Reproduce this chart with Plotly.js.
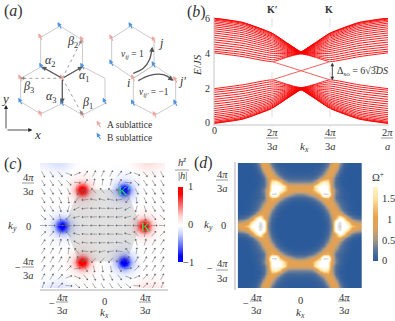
<!DOCTYPE html>
<html>
<head>
<meta charset="utf-8">
<script src="https://cdn.plot.ly/plotly-3.0.1.min.js"></script>
<style>html,body{margin:0;padding:0;background:#fff}#fig{width:395px;height:321px}</style>
</head>
<body>
<div id="fig"></div>
<script>
// panel (a), lattice nodes in sketch units (3 units = 1 px)
const hexagons = [
  [[180,78],[247,120],[248,200],[187,235],[122,200],[122,112],[180,78]],
  [[125,200],[187,235],[187,310],[122,342],[62,305],[62,235],[125,200]],
  [[248,200],[315,235],[315,310],[248,345],[187,310],[187,235],[248,200]],
  [[393,78],[462,120],[462,195],[400,235],[335,190],[335,115],[393,78]],
  [[462,195],[527,240],[527,310],[465,345],[400,310],[400,235],[462,195]]
];
const nodesA = [[122,112],[247,120],[187,235],[62,235],[122,342],[248,345],[335,115],[462,120],[400,235],[527,240],[465,345]];
const nodesB = [[180,78],[125,200],[248,200],[62,305],[187,310],[315,305],[393,78],[335,190],[462,195],[527,310],[400,310]];
const alphaEnds = [[248,200],[125,200],[187,310]];
const betaEnds = [[248,345],[245,120],[62,235]];

// panel (b), energies read per curve at a few kx (units of pi/a)
const kxSamples = [0, 1/3, 2/3, 5/6, 11/12, 1, 13/12, 7/6, 4/3, 5/3, 2];
const upperAt0 = [6,5.98,5.94,5.88,5.8,5.71,5.61,5.5,5.39,5.27,5.15,5.02,4.89,4.76,4.63,4.49,4.36,4.23,4.11,4.02];
const upperAt1 = [5.75,5.73,5.69,5.63,5.55,5.46,5.37,5.27,5.16,5.05,4.93,4.81,4.69,4.56,4.43,4.3,4.17,4.04,3.92,3.8];
const upperAt2 = [5.14,5.13,5.1,5.05,4.99,4.93,4.86,4.78,4.7,4.61,4.52,4.42,4.32,4.21,4.1,3.99,3.87,3.75,3.63,3.52];
const upperAt3 = [4.6,4.59,4.57,4.55,4.52,4.49,4.45,4.41,4.37,4.32,4.27,4.22,4.16,4.1,4.04,3.98,3.92,3.86,3.8,3.76];
const upperAt4 = [4.33,4.32,4.31,4.3,4.28,4.26,4.24,4.22,4.2,4.17,4.15,4.12,4.09,4.06,4.03,4,3.97,3.94,3.91,3.88];
const upperAt5 = [4.08,4.08,4.07,4.07,4.06,4.06,4.05,4.04,4.04,4.03,4.03,4.02,4.01,4,4,3.99,3.98,3.98,3.97,3.96];
const edgeKx = [2/3, 5/6, 1, 7/6, 4/3];
const edgeDown = [3.52, 3.27, 3, 2.73, 2.48];
const edgeUp = [2.48, 2.73, 3, 3.27, 3.52];

// panel (c), hz on the upper right quadrant (x and y in px-like k units, 41.5 = 4pi/3a)
const hzX = [0,7,14,18,21,24,28,33,37,41,45,49,54,62];
const hzY = [0,4,8,12,18,24,29,33,36,39,43,48,55,62];
const hzQuadrant = [
  [0,0,0,.01,.02,.03,.08,.3,.75,1,.75,.3,.08,.02],
  [0,0,0,.01,.01,.02,.07,.25,.55,.75,.55,.25,.07,.02],
  [0,0,-.01,-.01,-.01,0,.04,.12,.25,.3,.25,.12,.04,.01],
  [0,-.01,-.01,-.02,-.02,-.02,0,.06,.09,.1,.09,.06,.03,.01],
  [0,-.01,-.02,-.03,-.04,-.03,-.02,.01,.02,.03,.03,.02,.01,0],
  [0,-.02,-.07,-.09,-.1,-.09,-.07,-.03,-.01,0,0,0,0,0],
  [0,-.04,-.18,-.33,-.4,-.33,-.18,-.07,-.02,0,0,0,0,0],
  [0,-.05,-.33,-.72,-.85,-.72,-.33,-.09,-.03,0,0,0,0,0],
  [0,-.06,-.4,-.85,-1,-.85,-.4,-.1,-.03,0,0,0,0,0],
  [0,-.05,-.33,-.72,-.85,-.72,-.33,-.09,-.03,0,0,0,0,0],
  [0,-.04,-.18,-.33,-.4,-.33,-.18,-.07,-.02,0,0,0,0,0],
  [0,-.02,-.07,-.09,-.1,-.09,-.07,-.03,-.01,.01,.02,.02,.01,0],
  [0,-.01,-.02,-.03,-.03,-.02,-.01,.02,.05,.07,.07,.06,.05,.02],
  [0,0,-.01,0,0,.01,.03,.08,.12,.15,.16,.15,.12,.08]
];
const hexPatch = [[-38,0],[-24,36],[24,36],[38,0],[24,-36],[-24,-36],[-38,0]];
// arrow directions in degrees, columns x>=0 and rows y>=0 (last row only exists below the axis)
const quiverStepX = 8.5;
const quiverStepY = 8.6;
const quiverAngles = [
  [180,180,180,180,180,0,0,0],
  [180,181,184,194,223,283,310,317],
  [177,179,187,209,254,287,300,304],
  [167,170,186,232,277,293,298,300],
  [131,133,148,284,296,299,300,300],
  [83,79,59,353,315,305,301,300],
  [65,63,52,23,337,311,301,298],
  [61,60,54,41,4,316,296,290]
];
const hzBar = [-1,-.85,-.7,-.5,-.25,0,.25,.5,.7,.85,1];

// panel (d), Berry curvature on the upper right quadrant (values above 1.75 are the clipped patches)
const omegaGrid = [0,4,8,12,16,20,24,28,32,36,40,44,48,52,56,60,63];
const omegaQuadrant = [
  [0,0,0,0,0,0,0,.1,.4,2.3,2.6,2.1,2,1.3,1.1,1,.95],
  [0,0,0,0,0,0,.02,.1,.45,2.2,2.5,2,1.5,.9,.7,.6,.55],
  [0,0,0,0,0,0,.04,.15,.55,1.1,2,1.5,.7,.35,.2,.15,.12],
  [0,0,0,0,0,.01,.07,.25,.72,1.05,1,.5,.2,.08,.04,.02,.02],
  [0,0,0,0,.01,.04,.14,.43,.92,.95,.5,.2,.08,.02,.01,0,0],
  [0,0,0,.01,.04,.11,.3,.75,1.02,.7,.3,.13,.05,.02,0,0,0],
  [.02,.02,.04,.07,.14,.3,.7,1,.85,.45,.2,.1,.04,.01,0,0,0],
  [.1,.11,.15,.25,.43,.75,1.1,1.2,.8,.25,.12,.05,.02,0,0,0,0],
  [.4,.42,.55,.72,.92,1.3,2.6,2.5,.85,.3,.12,.05,.02,0,0,0,0],
  [.95,.96,1,1.05,1.5,2,2.1,1.9,.85,.35,.12,.04,.01,0,0,0,0],
  [.85,.85,.87,.95,1.7,2,2,1.95,.65,.2,.08,.02,0,0,0,0,0],
  [.38,.38,.38,.42,.65,1.4,1.8,1.6,.6,.18,.05,.01,0,0,0,0,0],
  [.14,.14,.14,.15,.25,.5,.85,1.1,.7,.2,.05,.01,0,0,0,0,0],
  [.05,.05,.05,.06,.1,.2,.45,.9,1,.4,.1,.02,0,0,0,0,0],
  [.02,.02,.02,.03,.05,.1,.25,.6,1.05,.7,.2,.04,.01,0,0,0,0],
  [.01,.01,.01,.02,.03,.05,.12,.35,.9,1.05,.35,.08,.02,0,0,0,0],
  [0,0,.01,.01,.02,.03,.08,.25,.7,1.05,.5,.12,.03,0,0,0,0]
];
const omegaBar = [0,.25,.5,.75,1,1.25,1.5,1.75];

const serif = "Liberation Serif";
const pink = "#eda79e";
const blue = "#4d94dc";
const hzColors = [[0,"#0000ff"],[.08,"#0000ff"],[.22,"#5f6dff"],[.38,"#c9d3ff"],[.5,"#ffffff"],[.62,"#ffd3d3"],[.78,"#ff6060"],[.92,"#ff0000"],[1,"#ff0000"]];
const omegaMax = 3;
const omegaColors = [[0,"#2a5a9a"],[.083,"#5a7398"],[.167,"#a0988a"],[.25,"#d8a060"],[.35,"#e8a24c"],[.5,"#fde2a0"],[.583,"#fff3c8"],[.66,"#ffffff"],[.77,"#ffffff"],[.84,"#d8d8d8"],[1,"#d0d0d0"]];

const px = x => x / 395;
const py = y => 1 - y / 321;
const traces = [], notes = [], shapes = [];

function note(x, y, text, size, extra) {
  notes.push(Object.assign({xref: "paper", yref: "paper", x: px(x), y: py(y), text: text, showarrow: false,
    xanchor: "center", yanchor: "middle", font: {family: serif, size: size || 11, color: "#333"}}, extra || {}));
}
function rule(x0, y0, x1, y1, color, width, dash) {
  shapes.push({type: "line", xref: "paper", yref: "paper", x0: px(x0), y0: py(y0), x1: px(x1), y1: py(y1),
    line: {color: color || "#333", width: width || .6, dash: dash || "solid"}});
}
function frac(x, yNum, yBar, yDen, top, bottom, halfWidth) {
  note(x, yNum, top, 10.5);
  rule(x - halfWidth, yBar, x + halfWidth, yBar, "#555", .6);
  note(x, yDen, bottom, 10.5);
}
function sketchArrow(tail, tip, color, width, head, size) {
  notes.push({xref: "x", yref: "y", axref: "x", ayref: "y", x: tip[0], y: tip[1], ax: tail[0], ay: tail[1], text: "",
    showarrow: true, arrowhead: head, arrowsize: size, arrowwidth: width, arrowcolor: color});
}

// ---- (a)
hexagons.forEach(h => traces.push({type: "scatter", mode: "lines", xaxis: "x", yaxis: "y", hoverinfo: "skip",
  x: h.map(p => p[0]), y: h.map(p => p[1]), line: {color: "#c4c4c4", width: .9}}));
nodesA.forEach(n => sketchArrow([n[0] + 6, n[1] + 12], [n[0] - 7, n[1] - 12], pink, 1.1, 2, .8));
nodesB.forEach(n => sketchArrow([n[0] + 6, n[1] + 12], [n[0] - 7, n[1] - 12], blue, 1.1, 2, .8));
betaEnds.forEach(e => {
  traces.push({type: "scatter", mode: "lines", xaxis: "x", yaxis: "y", hoverinfo: "skip",
    x: [187, e[0]], y: [235, e[1]], line: {color: "#888", width: .8, dash: "dot"}});
  sketchArrow([e[0] + (187 - e[0]) * .15, e[1] + (235 - e[1]) * .15], e, "#888", .7, 2, 1);
});
alphaEnds.forEach(e => sketchArrow([187, 235], e, "#5a5a5a", 1.2, 2, .8));
sketchArrow([18, 390], [18, 315], "#222", .8, 2, 1);
sketchArrow([18, 390], [97, 390], "#222", .8, 2, 1);
traces.push({type: "scatter", mode: "lines", xaxis: "x", yaxis: "y", hoverinfo: "skip", x: [400,430,448,456], y: [220,205,180,145],
  line: {color: "#555", width: 1.3, shape: "spline"}});
traces.push({type: "scatter", mode: "lines", xaxis: "x", yaxis: "y", hoverinfo: "skip", x: [415,450,490,518], y: [242,226,224,240],
  line: {color: "#555", width: 1.3, shape: "spline"}});
sketchArrow([455, 160], [457, 140], "#555", 1.3, 2, .8);
sketchArrow([505, 231], [520, 242], "#555", 1.3, 2, .8);
sketchArrow([304, 386], [290, 362], pink, 1.1, 2, .8);
sketchArrow([304, 422], [290, 398], blue, 1.1, 2, .8);
note(13, 11, "(<i>a</i>)", 16);
note(72, 42, "<i>β</i><sub>2</sub>", 12);
note(50, 61, "<i>α</i><sub>2</sub>", 12);
note(84, 76, "<i>α</i><sub>1</sub>", 12);
note(28, 87, "<i>β</i><sub>3</sub>", 12);
note(51, 97, "<i>α</i><sub>3</sub>", 12);
note(87, 103, "<i>β</i><sub>1</sub>", 12);
note(5, 98, "<i>y</i>", 13);
note(37, 134, "<i>x</i>", 13);
note(105, 125, "A sublattice", 9.5, {xanchor: "left"});
note(105, 138, "B sublattice", 9.5, {xanchor: "left"});
note(132, 54, "<i>ν<sub>ij</sub></i> = 1", 9.5);
note(161, 43, "<i>j</i>", 12);
note(128, 83, "<i>i</i>", 12);
note(182, 81, "<i>j′</i>", 12);
note(154, 93, "<i>ν<sub>ij′</sub></i> = −1", 9.5);

// ---- (b)
upperAt0.forEach((_, j) => {
  const curve = [upperAt0[j], upperAt1[j], upperAt2[j], upperAt3[j], upperAt4[j], upperAt5[j], upperAt4[j], upperAt3[j], upperAt2[j], upperAt1[j], upperAt0[j]];
  [curve, curve.map(e => 6 - e)].forEach(c => traces.push({type: "scatter", mode: "lines", xaxis: "x2", yaxis: "y2", hoverinfo: "skip",
    x: kxSamples, y: c, line: {color: "#f80000", width: .9, shape: "spline", smoothing: .5}}));
});
[edgeDown, edgeUp].forEach(c => traces.push({type: "scatter", mode: "lines", xaxis: "x2", yaxis: "y2", hoverinfo: "skip",
  x: edgeKx, y: c, line: {color: "#f05050", width: .9}}));
rule(272, 18, 272, 127, "#cfcfcf", .7, "dash");
rule(330, 18, 330, 127, "#cfcfcf", .7, "dash");
rule(214, 17, 214, 125, "#c4c4c4", 1);
rule(213, 125, 389, 125, "#c4c4c4", 1);
notes.push({xref: "x2", yref: "y2", axref: "x2", ayref: "y2", x: 1.36, y: 2.46, ax: 1.36, ay: 3.54, text: "",
  showarrow: true, arrowhead: 2, startarrowhead: 2, arrowside: "end+start", arrowsize: .8, arrowwidth: .9, arrowcolor: "#333"});
note(187, 12, "(<i>b</i>)", 16, {xanchor: "left", x: px(185)});
note(272, 9, "<b>K′</b>", 10);
note(329, 9, "<b>K</b>", 10);
note(346, 71, "Δ<sub>so</sub> = 6√3̅<i>DS</i>", 10, {xanchor: "left", x: px(335)});
note(207, 18, "6", 10); note(207, 53, "4", 10); note(207, 89, "2", 10); note(207, 123, "0", 10);
note(214, 131, "0", 10);
note(197, 65, "<i>E</i>/<i>JS</i>", 11, {textangle: -90});
frac(272, 133, 138, 146, "2<i>π</i>", "3<i>a</i>", 6);
frac(330, 133, 138, 146, "4<i>π</i>", "3<i>a</i>", 6);
frac(387, 133, 138, 146, "2<i>π</i>", "<i>a</i>", 6);
note(304, 147, "<i>k<sub>x</sub></i>", 11);

// ---- (c)
const hzXFull = hzX.slice(1).reverse().map(v => -v).concat(hzX);
const hzYFull = hzY.slice(1).reverse().map(v => -v).concat(hzY);
const hzRowFull = r => r.slice(1).reverse().map(v => -v).concat(r);
const hzRows = hzQuadrant.map(hzRowFull);
const hzZ = hzRows.slice(1).reverse().concat(hzRows);
traces.push({type: "heatmap", xaxis: "x3", yaxis: "y3", x: hzXFull, y: hzYFull, z: hzZ, zmin: -1, zmax: 1, zsmooth: "best",
  colorscale: hzColors, showscale: false, hoverinfo: "skip"});
traces.push({type: "scatter", mode: "lines", xaxis: "x3", yaxis: "y3", hoverinfo: "skip", x: hexPatch.map(p => p[0]), y: hexPatch.map(p => p[1]),
  fill: "toself", fillcolor: "rgba(120,120,120,.22)", line: {width: 0}});
const segX = [], segY = [], tipX = [], tipY = [], tipAngle = [];
for (let j = -7; j <= 6; j++) {
  for (let i = -7; i <= 7; i++) {
    const a = quiverAngles[Math.abs(j)][Math.abs(i)];
    const deg = j < 0 ? 360 - a : a;
    const dx = 3 * Math.cos(deg * Math.PI / 180), dy = 3 * Math.sin(deg * Math.PI / 180);
    const cx = i * quiverStepX, cy = j * quiverStepY;
    segX.push(cx - dx, cx + dx, null);
    segY.push(cy - dy, cy + dy, null);
    tipX.push(cx + dx); tipY.push(cy + dy); tipAngle.push(90 - deg);
  }
}
traces.push({type: "scatter", mode: "lines", xaxis: "x3", yaxis: "y3", hoverinfo: "skip", x: segX, y: segY, line: {color: "#707070", width: .55}});
traces.push({type: "scatter", mode: "markers", xaxis: "x3", yaxis: "y3", hoverinfo: "skip", x: tipX, y: tipY,
  marker: {symbol: "triangle-up", size: 2.2, angle: tipAngle, color: "#606060", line: {width: 0}}});
traces.push({type: "heatmap", xaxis: "x5", yaxis: "y5", x: [0, 1], y: hzBar, z: hzBar.map(v => [v, v]), zmin: -1, zmax: 1, zsmooth: "best",
  colorscale: hzColors, showscale: false, hoverinfo: "skip"});
rule(40, 290, 168, 290, "#999", .8);
note(13, 164, "(<i>c</i>)", 16);
note(124, 191, "K′", 13, {font: {family: serif, size: 13, color: "#22dd66"}});
note(146, 226, "K", 13, {font: {family: serif, size: 13, color: "#22dd66"}});
frac(62, 297, 302, 310, "4<i>π</i>", "3<i>a</i>", 6);
note(52, 303, "−", 10.5);
note(104, 301, "0", 10.5);
frac(145, 297, 302, 310, "4<i>π</i>", "3<i>a</i>", 6);
note(104, 313, "<i>k<sub>x</sub></i>", 11);
frac(28, 178, 183, 192, "4<i>π</i>", "3<i>a</i>", 6);
frac(28, 261, 267, 275, "4<i>π</i>", "3<i>a</i>", 6);
note(18, 267, "−", 10.5);
note(28, 226, "0", 10.5);
note(12, 226, "<i>k<sub>y</sub></i>", 11);
note(190, 187, "1", 10.5); note(190, 224, "0", 10.5); note(188, 262, "−1", 10.5);
note(182, 162, "<i>h<sup>z</sup></i>", 10.5);
rule(175, 170, 189, 170, "#555", .6);
note(182, 176, "|<i>h</i>|", 10.5);

// ---- (d)
const omegaAxis = omegaGrid.slice(1).reverse().map(v => -v).concat(omegaGrid);
const omegaRows = omegaQuadrant.map(r => r.slice(1).reverse().concat(r));
const omegaZ = omegaRows.slice(1).reverse().concat(omegaRows);
traces.push({type: "heatmap", xaxis: "x4", yaxis: "y4", x: omegaAxis, y: omegaAxis, z: omegaZ, zmin: 0, zmax: omegaMax, zsmooth: "best",
  colorscale: omegaColors, showscale: false, hoverinfo: "skip"});
traces.push({type: "heatmap", xaxis: "x6", yaxis: "y6", x: [0, 1], y: omegaBar, z: omegaBar.map(v => [v, v]), zmin: 0, zmax: omegaMax, zsmooth: "best",
  colorscale: omegaColors, showscale: false, hoverinfo: "skip"});
rule(235, 162, 235, 290, "#c8c8c8", 1.4);
note(192, 163, "(<i>d</i>)", 16, {xanchor: "left"});
frac(256, 297, 301, 310, "4<i>π</i>", "3<i>a</i>", 6);
note(246, 303, "−", 10.5);
note(300, 300, "0", 10.5);
frac(344, 297, 301, 310, "4<i>π</i>", "3<i>a</i>", 6);
note(300, 313, "<i>k<sub>x</sub></i>", 11);
frac(222, 175, 180, 189, "4<i>π</i>", "3<i>a</i>", 6);
frac(222, 263, 270, 278, "4<i>π</i>", "3<i>a</i>", 6);
note(210, 268, "−", 10.5);
note(223, 225, "0", 10.5);
note(208, 225, "<i>k<sub>y</sub></i>", 11);
note(378, 177, "Ω<sup>+</sup>", 10.5);
note(380, 198, "1.5", 10.5, {xanchor: "left"});
note(385, 219, "1", 10.5, {xanchor: "left"});
note(380, 240, "0.5", 10.5, {xanchor: "left"});
note(380, 260, "0", 10.5, {xanchor: "left"});

const hidden = {showgrid: false, zeroline: false, showticklabels: false, ticks: "", fixedrange: true};
const box = (x0, x1, y0, y1) => [[px(x0), px(x1)], [py(y1), py(y0)]];
const layout = {
  width: 395, height: 321, margin: {l: 0, r: 0, t: 0, b: 0}, showlegend: false, paper_bgcolor: "#fff", plot_bgcolor: "rgba(0,0,0,0)",
  annotations: notes, shapes: shapes
};
function axes(n, bounds, rx, ry) {
  const tag = n === 1 ? "" : n;
  layout["xaxis" + tag] = Object.assign({}, hidden, {domain: bounds[0], range: rx, anchor: "y" + tag});
  layout["yaxis" + tag] = Object.assign({}, hidden, {domain: bounds[1], range: ry, anchor: "x" + tag});
}
axes(1, box(0, 200, 0, 160), [0, 600], [480, 0]);
axes(2, box(214, 388, 18, 124), [0, 2], [-.03, 6]);
axes(3, box(40, 165, 163, 288), [-62.5, 62.5], [-62.5, 62.5]);
axes(4, box(237.7, 362, 163, 288), [-62.5, 62.5], [-62.5, 62.5]);
axes(5, box(178, 183, 187, 262), [0, 1], [-1, 1]);
axes(6, box(373, 378, 187, 261), [0, 1], [0, 1.75]);

Plotly.newPlot("fig", traces, layout, {staticPlot: true, displayModeBar: false});
</script>
</body>
</html>
